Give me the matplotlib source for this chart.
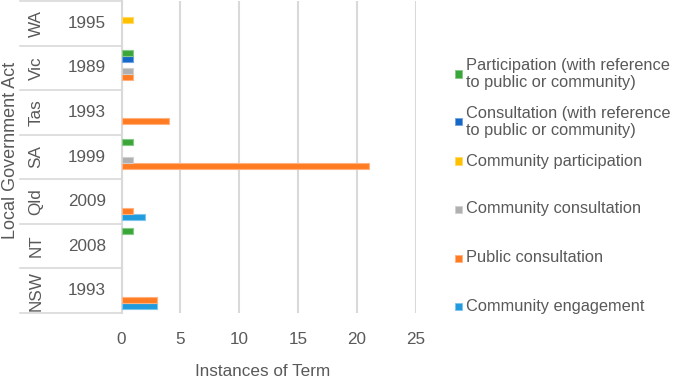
import matplotlib
matplotlib.use("Agg")
import matplotlib.pyplot as plt
from matplotlib.patches import Rectangle
from matplotlib.lines import Line2D
import numpy as np

plt.rcParams['font.family'] = ['Liberation Sans', 'DejaVu Sans']

states = ["NSW", "NT", "Qld", "SA", "Tas", "Vic", "WA"]
years = ["1993", "2008", "2009", "1999", "1993", "1989", "1995"]

# series (bottom-to-top within each group)
series_names = ["Community engagement", "Public consultation", "Community consultation",
                "Community participation",
                "Consultation (with reference\nto public or community)",
                "Participation (with reference\nto public or community)"]
community_engagement = [3, 0, 2, 0, 0, 0, 0]
public_consultation = [3, 0, 1, 21, 4, 1, 0]
community_consultation = [0, 0, 0, 1, 0, 1, 0]
community_participation = [0, 0, 0, 0, 0, 0, 1]
consultation_ref = [0, 0, 0, 0, 0, 1, 0]
participation_ref = [0, 1, 0, 1, 0, 1, 0]
series_values = [community_engagement, public_consultation, community_consultation,
                 community_participation, consultation_ref, participation_ref]
colors = ["#1F9BDE", "#FF7C22", "#B0B0B0", "#FFC000", "#1668C6", "#3AA63A"]
edges = ["#7CC6EE", "#FFB27E", "#D0D0D0", "#FFD966", "#6FA2DD", "#86C985"]

W, H = 675, 381
fig = plt.figure(figsize=(W / 100, H / 100), dpi=100)
x0, x1, ytop, ybot = 121.5, 416, 1, 313
ax = fig.add_axes([x0 / W, (H - ybot) / H, (x1 - x0) / W, (ybot - ytop) / H])

n = len(states)
y = np.arange(n)
h = 0.135
for i, (vals, c, ec) in enumerate(zip(series_values, colors, edges)):
    lws = [0.8 if v else 0 for v in vals]
    ax.barh(y + (i - 2.5) * h, vals, height=h, color=c, edgecolor=ec, linewidth=lws, zorder=3)

ax.set_xlim(0, 25)
ax.set_ylim(-0.5, n - 0.5)
ax.set_xticks([0, 5, 10, 15, 20, 25])
ax.xaxis.grid(True, color="#D9D9D9", linewidth=1.5, zorder=0)
ax.set_yticks([])
for s in ["top", "right", "bottom"]:
    ax.spines[s].set_visible(False)
ax.spines["left"].set_color("#D9D9D9")
ax.spines["left"].set_linewidth(1.5)
ax.tick_params(axis="x", length=0, labelsize=12.3, labelcolor="#595959", pad=14)

# category table
trans = ax.get_yaxis_transform()
axw = x1 - x0
lx = (20 - x0) / axw
for b in np.arange(n + 1) - 0.5:
    ax.add_line(Line2D([lx, 0], [b, b], transform=trans, color="#D9D9D9", linewidth=1.2, clip_on=False))
for yi, st, yr in zip(y, states, years):
    ax.text((36 - x0) / axw, yi, st, transform=trans, rotation=90, ha="center", va="center",
            fontsize=12.3, color="#595959")
    ax.text((87 - x0) / axw, yi, yr, transform=trans, ha="center", va="center",
            fontsize=12.3, color="#595959")

fig.text(11 / W, 1 - 150 / H, "Local Government Act", rotation=90, ha="center", va="center",
         fontsize=13, color="#595959")
fig.text(263 / W, 1 - 371 / H, "Instances of Term", ha="center", va="center",
         fontsize=12.3, color="#595959")

# legend (top to bottom)
leg_y = [74, 122, 161, 209, 258, 306]
for k, yy in enumerate(leg_y):
    i = 5 - k
    fig.patches.append(Rectangle(((455) / W, 1 - (yy + 3.5) / H), 7 / W, 7 / H,
                                 transform=fig.transFigure, facecolor=colors[i],
                                 edgecolor=edges[i], linewidth=0.6))
    fig.text(466 / W, 1 - yy / H, series_names[i], ha="left", va="center",
             fontsize=11.8, color="#595959", linespacing=1.2)

fig.savefig("out.png", dpi=100)
